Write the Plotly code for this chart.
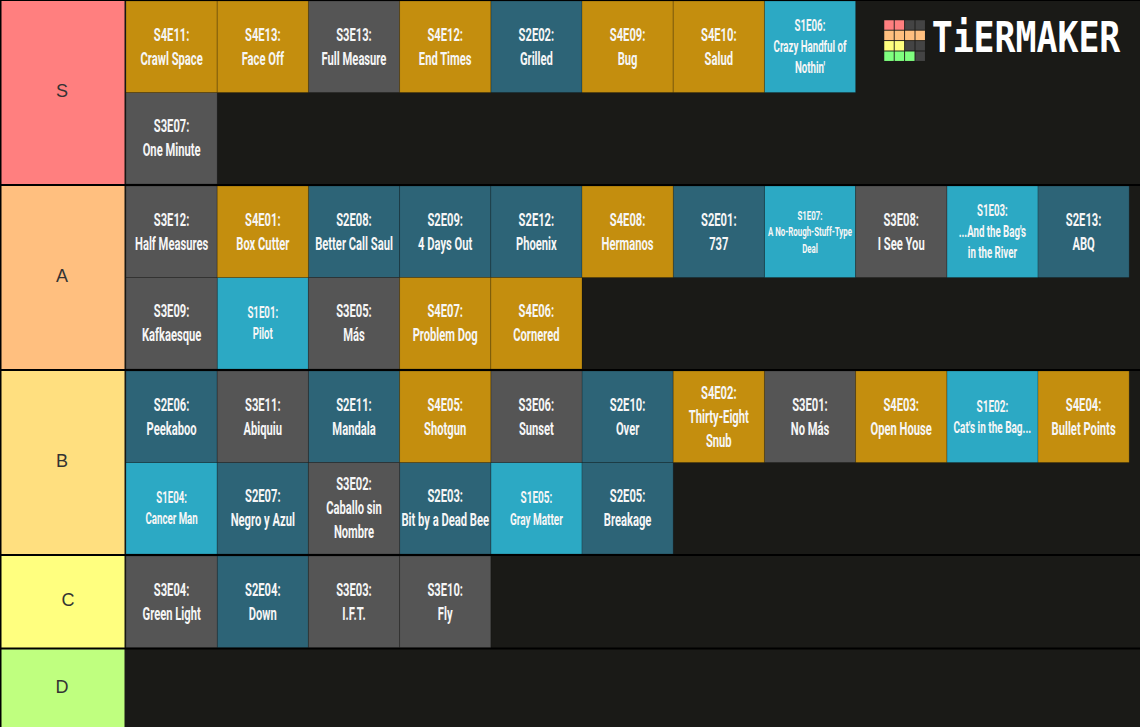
import plotly.graph_objects as go

# tier names, colours
tier_names = ['S', 'A', 'B', 'C', 'D']
tier_colors = ['#FF7F7F', '#FFBF7F', '#FFDF7F', '#FFFF7F', '#BFFF7F']

# episodes per tier, one inner list per row of tiles
s_rows = [['S4E11:<br>Crawl Space', 'S4E13:<br>Face Off', 'S3E13:<br>Full Measure', 'S4E12:<br>End Times',
           'S2E02:<br>Grilled', 'S4E09:<br>Bug', 'S4E10:<br>Salud', "S1E06:<br>Crazy Handful of<br>Nothin'"],
          ['S3E07:<br>One Minute']]
a_rows = [['S3E12:<br>Half Measures', 'S4E01:<br>Box Cutter', 'S2E08:<br>Better Call Saul', 'S2E09:<br>4 Days Out',
           'S2E12:<br>Phoenix', 'S4E08:<br>Hermanos', 'S2E01:<br>737', 'S1E07:<br>A No-Rough-Stuff-Type<br>Deal',
           'S3E08:<br>I See You', "S1E03:<br>...And the Bag's<br>in the River", 'S2E13:<br>ABQ'],
          ['S3E09:<br>Kafkaesque', 'S1E01:<br>Pilot', 'S3E05:<br>Más', 'S4E07:<br>Problem Dog', 'S4E06:<br>Cornered']]
b_rows = [['S2E06:<br>Peekaboo', 'S3E11:<br>Abiquiu', 'S2E11:<br>Mandala', 'S4E05:<br>Shotgun', 'S3E06:<br>Sunset',
           'S2E10:<br>Over', 'S4E02:<br>Thirty-Eight<br>Snub', 'S3E01:<br>No Más', 'S4E03:<br>Open House',
           "S1E02:<br>Cat's in the Bag...", 'S4E04:<br>Bullet Points'],
          ['S1E04:<br>Cancer Man', 'S2E07:<br>Negro y Azul', 'S3E02:<br>Caballo sin<br>Nombre',
           'S2E03:<br>Bit by a Dead Bee', 'S1E05:<br>Gray Matter', 'S2E05:<br>Breakage']]
c_rows = [['S3E04:<br>Green Light', 'S2E04:<br>Down', 'S3E03:<br>I.F.T.', 'S3E10:<br>Fly']]
d_rows = []
tier_rows = [s_rows, a_rows, b_rows, c_rows, d_rows]

season_colors = {'S1': '#2CA9C4', 'S2': '#2D6477', 'S3': '#555555', 'S4': '#C48E0E'}

logo_grid = [['#FF7F7F', '#FF7F7F', '#444444', '#444444'],
             ['#FFBF7F', '#FFBF7F', '#FFBF7F', '#FFBF7F'],
             ['#FFFF7F', '#FFFF7F', '#444444', '#444444'],
             ['#7FFF7F', '#7FFF7F', '#7FFF7F', '#444444']]

W, H = 1140, 727
TILE_W, TILE_H = 91.2, 91.5
LABEL_W = 124
START_X = 126
GAP = 2
FONT = 'Roboto'

# stack the tiers top to bottom
tops, heights = [], []
y = 1
for rows in tier_rows:
    h = len(rows) * TILE_H if rows else H - y
    tops.append(y)
    heights.append(h)
    y += h + GAP

fig = go.Figure()

# dark band behind each tier
fig.add_trace(go.Bar(x=[(LABEL_W + W) / 2] * 5, y=heights, base=tops, width=W - LABEL_W,
                     marker=dict(color='#1A1A17', line_width=0), hoverinfo='skip'))

# coloured label cells
fig.add_trace(go.Bar(x=[1 + LABEL_W / 2] * 5, y=heights, base=tops, width=LABEL_W - 1,
                     marker=dict(color=tier_colors, line_width=0), hoverinfo='skip'))
fig.add_trace(go.Scatter(x=[62, 62, 62, 68, 62], y=[t + h / 2 for t, h in zip(tops, heights)],
                         text=tier_names, mode='text', textposition='middle center',
                         textfont=dict(family='Liberation Sans', size=18, color='#333333'), hoverinfo='skip'))

# tiles, one trace per season
for season, color in season_colors.items():
    xs, ys, bases = [], [], []
    for rows, top in zip(tier_rows, tops):
        for r, row in enumerate(rows):
            for c, title in enumerate(row):
                if title.startswith(season):
                    xs.append(START_X + TILE_W * (c + 0.5))
                    bases.append(top + r * TILE_H)
                    ys.append(TILE_H)
    fig.add_trace(go.Bar(x=xs, y=ys, base=bases, width=TILE_W,
                         marker=dict(color=color, line=dict(color='rgba(0,0,0,0.2)', width=1)),
                         hoverinfo='skip'))

# tile captions
small = {'S1E07': 13, 'S1E01': 16, 'S1E04': 16, 'S1E05': 16.5, 'S1E02': 16.5, 'S1E06': 16, 'S1E03': 16}
tx, ty, tt, ts = [], [], [], []
for rows, top in zip(tier_rows, tops):
    for r, row in enumerate(rows):
        for c, title in enumerate(row):
            tx.append(START_X + TILE_W * (c + 0.5))
            ty.append(top + (r + 0.5) * TILE_H + 1.5)
            tt.append('<b>' + title + '</b>')
            ts.append(small.get(title[:5], 18.5))
fig.add_trace(go.Scatter(x=tx, y=ty, text=tt, mode='text', textposition='middle center',
                         textfont=dict(family=FONT, size=ts, color='#F6F6F6'), hoverinfo='skip'))

# logo
lx, ly, lc = [], [], []
for r, row in enumerate(logo_grid):
    for c, col in enumerate(row):
        lx.append(889 + c * 10.4)
        ly.append(25 + r * 10.4)
        lc.append(col)
fig.add_trace(go.Scatter(x=lx, y=ly, mode='markers', hoverinfo='skip',
                         marker=dict(symbol='square', size=9.5, color=lc, line_width=0)))
fig.add_trace(go.Scatter(x=[1026], y=[41], text=['<b>TiERMAKER</b>'], mode='text', textposition='middle center',
                         textfont=dict(family='DejaVu Sans Mono', size=43, color='white'), hoverinfo='skip'))

fig.update_layout(width=W, height=H, margin=dict(l=0, r=0, t=0, b=0), showlegend=False,
                  barmode='overlay', paper_bgcolor='black', plot_bgcolor='black',
                  xaxis=dict(range=[0, W], visible=False, fixedrange=True),
                  yaxis=dict(range=[H, 0], visible=False, fixedrange=True))

# no condensed font installed, so squeeze the captions sideways
squeeze = """
document.body.style.margin='0';
document.querySelectorAll('.textpoint text').forEach(function(t){
  var s = t.textContent.length < 2 ? 1 : (t.textContent == 'TiERMAKER' ? 0.81 : 0.605);
  var x = parseFloat(t.getAttribute('x'));
  t.setAttribute('transform', 'translate(' + x*(1-s) + ',0) scale(' + s + ',1)');
});
"""
fig.write_html("out.html", config={'displayModeBar': False}, post_script=squeeze)
